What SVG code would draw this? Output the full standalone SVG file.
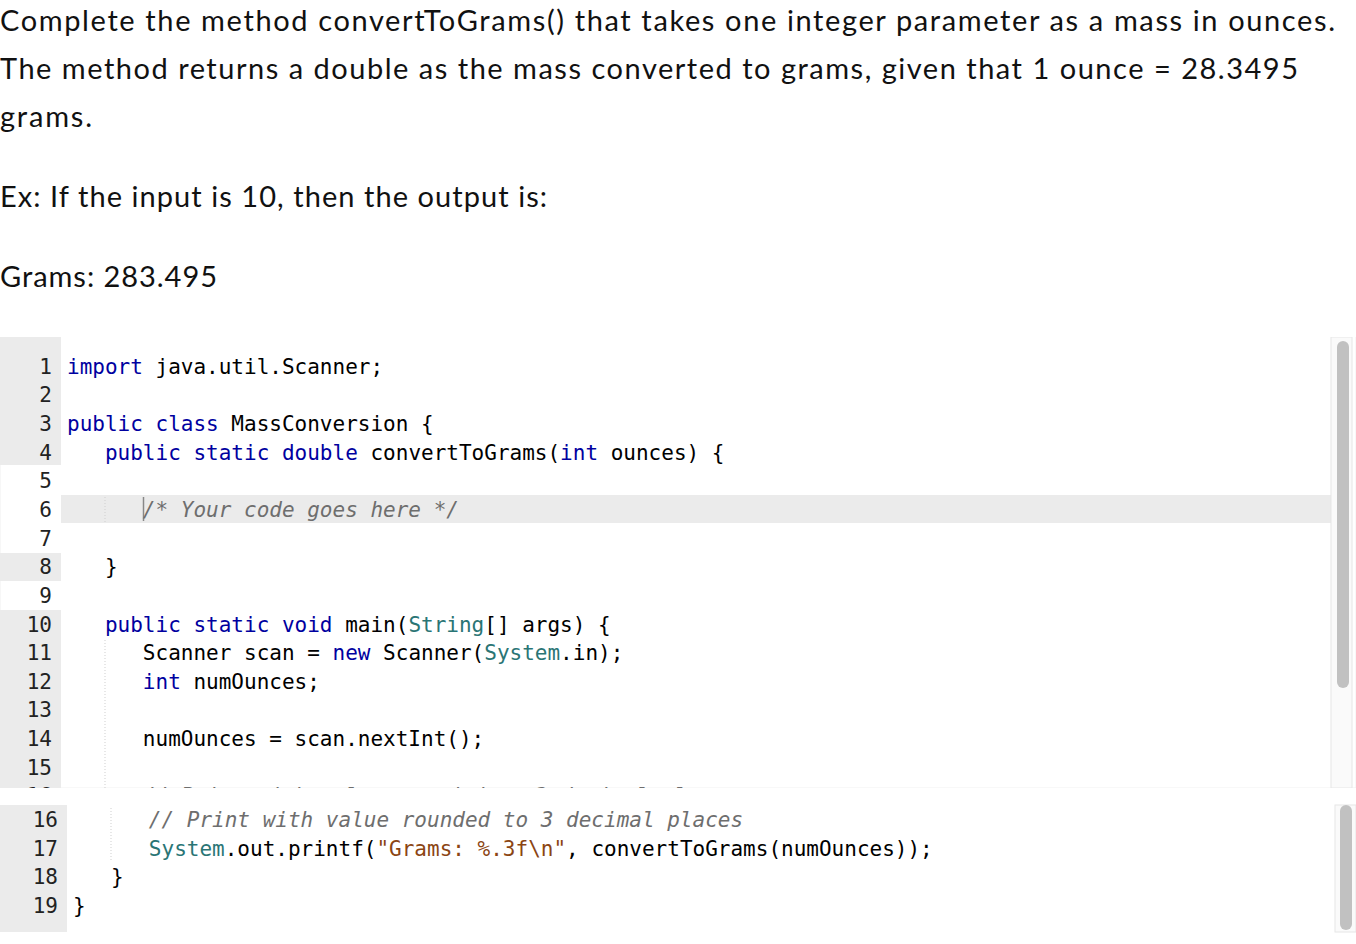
<svg xmlns="http://www.w3.org/2000/svg" width="1356" height="944" viewBox="0 0 1356 944">
<style>
.h{font-family:Lato,"Open Sans",sans-serif;font-size:29px;fill:#111}
.c{font-family:"DejaVu Sans Mono","Liberation Mono",monospace;font-size:21px;fill:#000;white-space:pre}
.n{font-family:"DejaVu Sans Mono","Liberation Mono",monospace;font-size:21px;fill:#222;text-anchor:end}
.k{fill:#0000a0}.t{fill:#2a7575}.s{fill:#8b4513}.m{fill:#6e6e6e;font-style:italic}
.g{stroke:#cfcfcf;stroke-width:1;stroke-dasharray:1 2}
</style>
<defs><clipPath id="top"><rect x="0" y="337" width="1356" height="451"/></clipPath></defs>
<rect width="1356" height="944" fill="#fff"/>
<g id="prompt">
<text class="h" x="0" y="31" textLength="1335">Complete the method convertToGrams() that takes one integer parameter as a mass in ounces.</text>
<text class="h" x="0" y="79" textLength="1298">The method returns a double as the mass converted to grams, given that 1 ounce = 28.3495</text>
<text class="h" x="0" y="127" textLength="92">grams.</text>
<text class="h" x="0" y="207" textLength="547">Ex: If the input is 10, then the output is:</text>
<text class="h" x="0" y="287" textLength="217">Grams: 283.495</text>
</g>
<g id="editor-top" clip-path="url(#top)">
<rect x="0" y="336" width="1356" height="452" fill="#fff" stroke="#f0f0f0"/>
<rect x="0" y="337" width="61" height="128" fill="#ebebeb"/>
<rect x="0" y="553" width="61" height="28" fill="#ebebeb"/>
<rect x="0" y="610" width="61" height="178" fill="#ebebeb"/>
<rect x="61" y="495" width="1270" height="28" fill="#ebebeb"/>
<line x1="143.5" y1="497" x2="143.5" y2="521" stroke="#888" stroke-width="1.5"/>
<line class="g" x1="105" y1="497" x2="105" y2="522"/>
<line class="g" x1="105" y1="640" x2="105" y2="788"/>
<g>
<text class="n" x="52" y="374">1</text><text class="n" x="52" y="402">2</text><text class="n" x="52" y="431">3</text><text class="n" x="52" y="460">4</text><text class="n" x="52" y="488">5</text><text class="n" x="52" y="517">6</text><text class="n" x="52" y="546">7</text><text class="n" x="52" y="574">8</text><text class="n" x="52" y="603">9</text><text class="n" x="52" y="632">10</text><text class="n" x="52" y="660">11</text><text class="n" x="52" y="689">12</text><text class="n" x="52" y="717">13</text><text class="n" x="52" y="746">14</text><text class="n" x="52" y="775">15</text><text class="n" x="52" y="803">16</text>
</g>
<text class="c" x="67" y="374"><tspan class="k">import</tspan> java.util.Scanner;</text>
<text class="c" x="67" y="431"><tspan class="k">public class</tspan> MassConversion {</text>
<text class="c" x="67" y="460">   <tspan class="k">public static double</tspan> convertToGrams(<tspan class="k">int</tspan> ounces) {</text>
<text class="c m" x="67" y="517">      /* Your code goes here */</text>
<text class="c" x="67" y="574">   }</text>
<text class="c" x="67" y="632">   <tspan class="k">public static void</tspan> main(<tspan class="t">String</tspan>[] args) {</text>
<text class="c" x="67" y="660">      Scanner scan = <tspan class="k">new</tspan> Scanner(<tspan class="t">System</tspan>.in);</text>
<text class="c" x="67" y="689">      <tspan class="k">int</tspan> numOunces;</text>
<text class="c" x="67" y="746">      numOunces = scan.nextInt();</text>
<text class="c m" x="67" y="803">      // Print with value rounded to 3 decimal places</text>
<rect x="1331" y="337" width="21" height="451" fill="#fafafa" stroke="#e6e6e6"/>
<rect x="1337" y="341" width="12" height="347" rx="6" fill="#c1c1c1"/>
</g>
<g id="editor-bottom">
<rect x="0" y="805" width="67" height="127" fill="#ebebeb"/>
<line class="g" x1="111" y1="808" x2="111" y2="860"/>
<text class="n" x="58" y="827">16</text><text class="n" x="58" y="856">17</text><text class="n" x="58" y="884">18</text><text class="n" x="58" y="913">19</text>
<text class="c m" x="73" y="827">      // Print with value rounded to 3 decimal places</text>
<text class="c" x="73" y="856">      <tspan class="t">System</tspan>.out.printf(<tspan class="s">"Grams: %.3f\n"</tspan>, convertToGrams(numOunces));</text>
<text class="c" x="73" y="884">   }</text>
<text class="c" x="73" y="913">}</text>
<rect x="1335" y="805" width="21" height="127" fill="#fafafa" stroke="#e6e6e6"/>
<rect x="1340" y="805" width="12" height="125" rx="6" fill="#c1c1c1"/>
</g>
</svg>
